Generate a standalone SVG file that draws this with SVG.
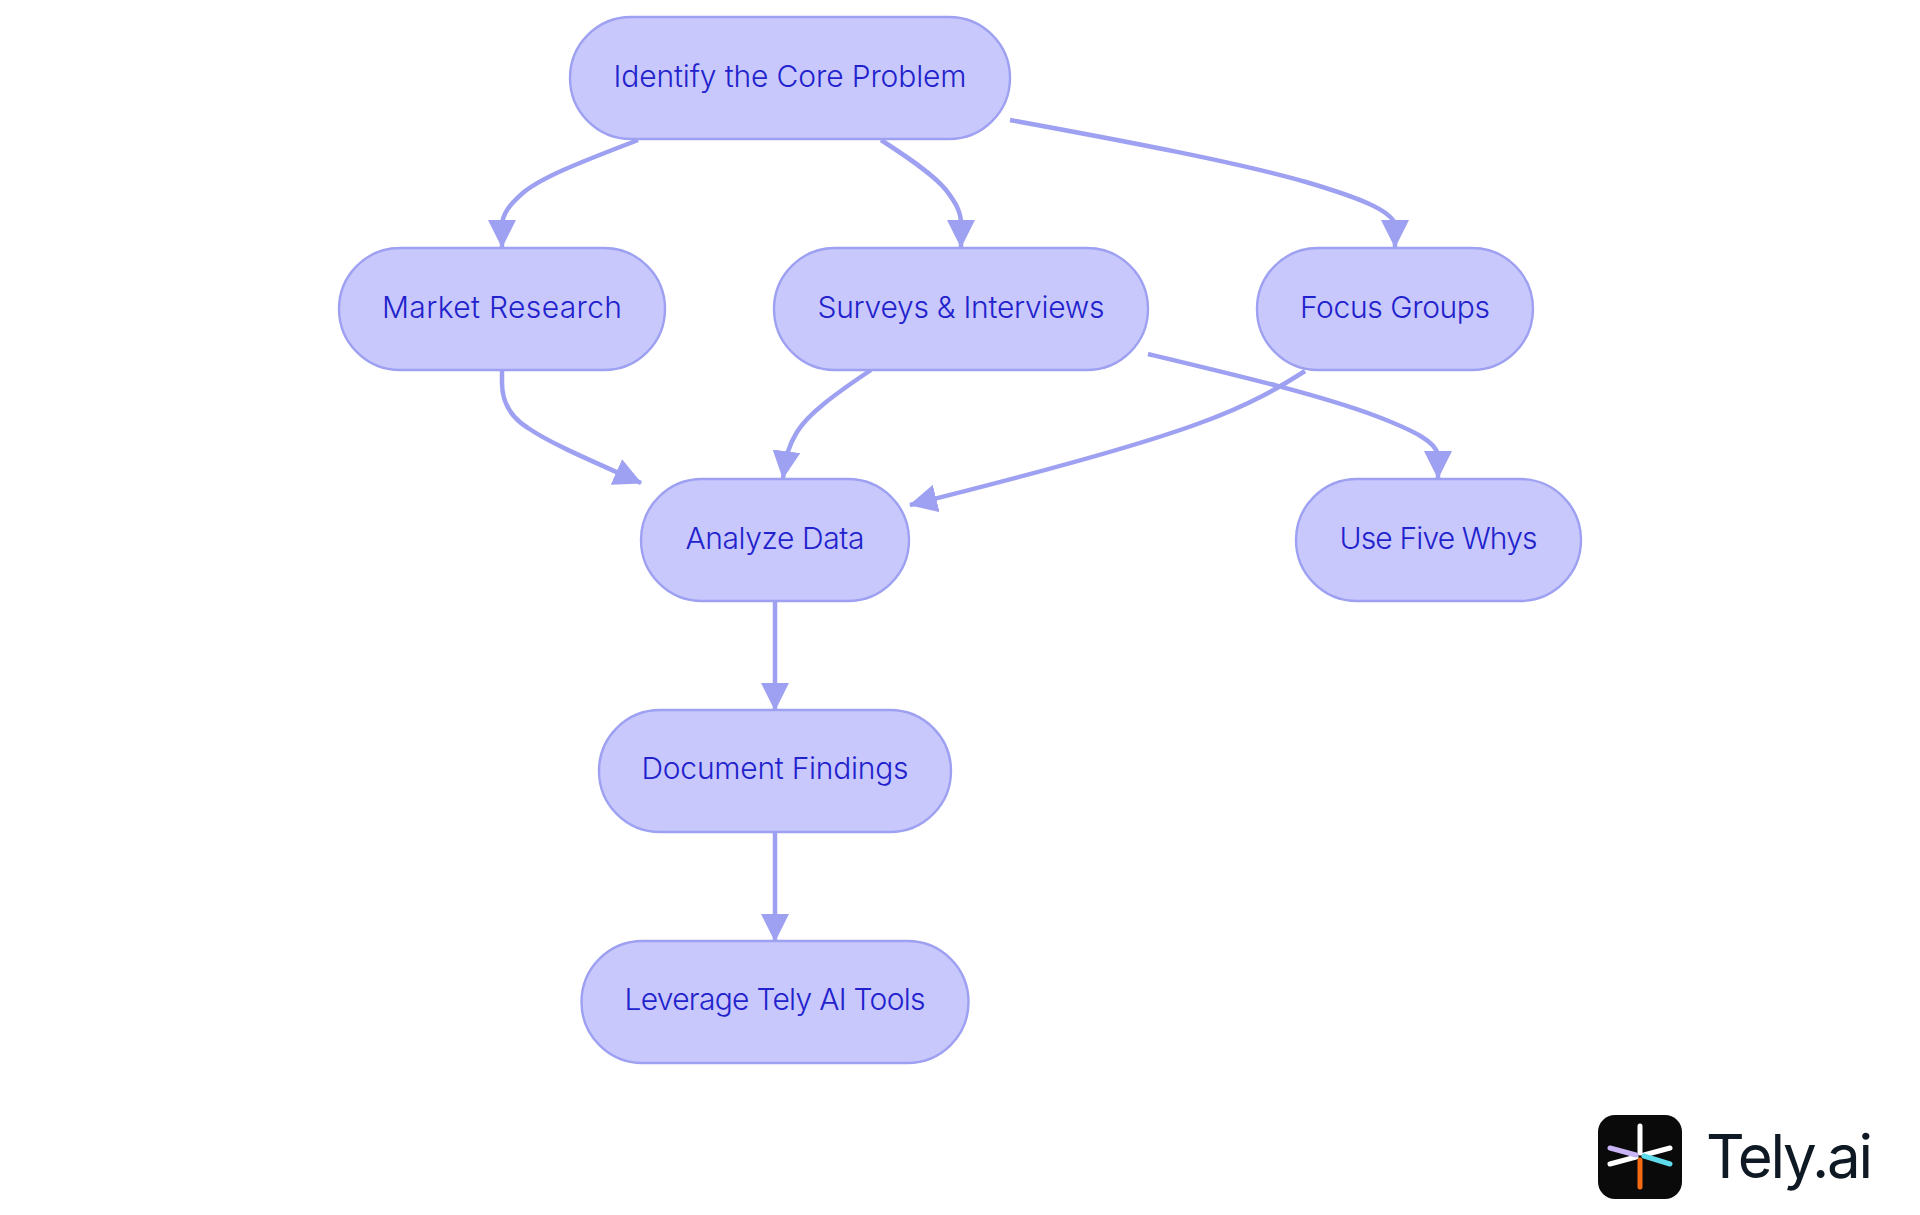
<svg xmlns="http://www.w3.org/2000/svg" width="1920" height="1215" viewBox="0 0 1920 1215">
<style>
.n{fill:#c8c8fd;stroke:#9ea0f1;stroke-width:2.4}
.t{font-family:"Inter","Noto Sans",sans-serif;font-size:30px;font-weight:300;fill:#2222cc;text-anchor:middle}
.e{fill:none;stroke:#9ea0f1;stroke-width:4.5;marker-end:url(#a)}
.s{fill:none;stroke-width:5;stroke-linecap:round}
</style>
<defs>
<marker id="a" markerUnits="userSpaceOnUse" markerWidth="28" markerHeight="28" refX="26" refY="13.5" orient="auto" viewBox="0 0 27 27"><path d="M0,0L27,13.5L0,27Z" fill="#9ea0f1"/></marker>
</defs>
<rect width="1920" height="1215" fill="#fff"/>
<g id="connectors">
<path class="e" d="M638,140C592,158 545,175 524,192C510,204 502,214 502,226L502,247"/>
<path class="e" d="M881,140C912,160 935,176 946,190C956,203 961,212 961,224L961,247"/>
<path class="e" d="M1010,120C1130,142 1240,163 1306,182C1360,198 1390,210 1395,224L1395,247"/>
<path class="e" d="M502,370V383C502,404 512,418 528,428C550,443 585,458 641,483"/>
<path class="e" d="M871,370C835,394 808,414 797,432C789,445 786,455 783,478"/>
<path class="e" d="M1305,371C1280,387 1250,405 1200,423C1130,449 1010,480 910,505"/>
<path class="e" d="M1148,354C1240,376 1320,395 1376,416C1415,431 1436,442 1438,455L1438,478"/>
<path class="e" d="M775,601V710"/>
<path class="e" d="M775,832V941"/>
</g>
<g id="identify"><rect class="n" x="570" y="17" width="440" height="122" rx="61"/><text class="t" x="790" y="87" textLength="353">Identify the Core Problem</text></g>
<g id="market"><rect class="n" x="339" y="248" width="326" height="122" rx="61"/><text class="t" x="502" y="318" textLength="240">Market Research</text></g>
<g id="surveys"><rect class="n" x="774" y="248" width="374" height="122" rx="61"/><text class="t" x="961" y="318" textLength="287">Surveys &amp; Interviews</text></g>
<g id="focus"><rect class="n" x="1257" y="248" width="276" height="122" rx="61"/><text class="t" x="1395" y="318" textLength="190">Focus Groups</text></g>
<g id="analyze"><rect class="n" x="641" y="479" width="268" height="122" rx="61"/><text class="t" x="775" y="549" textLength="179">Analyze Data</text></g>
<g id="five-whys"><rect class="n" x="1296" y="479" width="285" height="122" rx="61"/><text class="t" x="1438.5" y="549" textLength="198">Use Five Whys</text></g>
<g id="document"><rect class="n" x="599" y="710" width="352" height="122" rx="61"/><text class="t" x="775" y="779" textLength="267">Document Findings</text></g>
<g id="leverage"><rect class="n" x="581.5" y="941" width="387" height="122" rx="61"/><text class="t" x="775" y="1010" textLength="301">Leverage Tely AI Tools</text></g>
<g id="logo">
<rect x="1598" y="1115" width="84" height="84" rx="17" fill="#0a0a0a"/>
<path class="s" stroke="#fff" d="M1640,1126V1153M1610,1164L1636,1157M1644,1155L1670,1148"/>
<path class="s" stroke="#c9b4f5" d="M1610,1148L1636,1155"/>
<path class="s" stroke="#5fdcec" d="M1644,1156L1670,1164"/>
<path class="s" stroke="#f56a10" d="M1640,1160V1187"/>
<text x="1706" y="1178" font-family="Inter,'Noto Sans',sans-serif" font-size="60" fill="#0f1923" textLength="167">Tely.ai</text>
</g>
</svg>
